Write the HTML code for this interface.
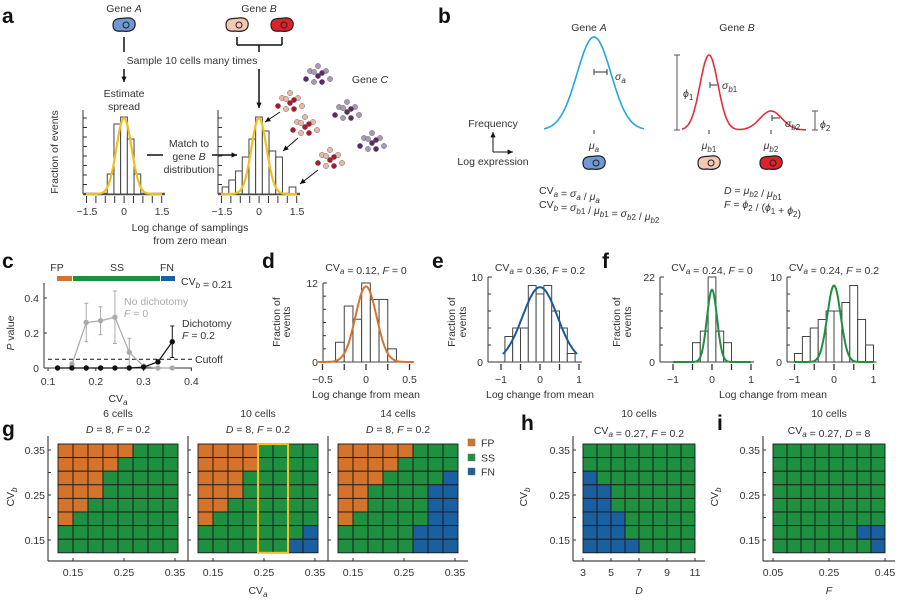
<!DOCTYPE html>
<html><head><meta charset="utf-8"><style>
html,body{margin:0;padding:0;background:#fff}
svg{display:block;font-family:"Liberation Sans",sans-serif;font-size:10.5px;fill:#333}
.pl{font-size:21px;font-weight:bold;fill:#111}
</style></head><body>
<svg id="fig" width="900" height="601" viewBox="0 0 900 601"></svg>
<script>
// ---------- data ----------
const histALeft=[2,7,7.7,5.5,2];
const histARight=[0.7,1.4,2.3,3.7,5.5,7.7,6.3,4.3,3.7,0,0.7];
const cCvaGray=[0.15,0.18,0.21,0.24,0.27,0.30,0.33,0.36];
const cPGray=[0.02,0.26,0.27,0.29,0.09,0.01,0,0];
const cErrGray=[0.015,0.11,0.08,0.15,0.08,0.01,0,0];
const cCvaBlack=[0.12,0.15,0.18,0.21,0.24,0.27,0.30,0.33,0.36];
const cPBlack=[0,0,0,0,0,0,0.005,0.035,0.15];
const cErrBlack=[0,0,0,0,0,0,0,0.01,0.09];
const dCenters=[-0.3,-0.2,-0.1,0,0.1,0.2,0.3];
const dCounts=[3,8.5,6.5,12,9.5,9.5,2];
const eCenters=[-0.8,-0.6,-0.4,-0.2,0,0.2,0.4,0.6,0.8];
const eCounts=[3,4,4,9,8,9,6,4,1];
const f1Centers=[-0.4,-0.2,0,0.2,0.4];
const f1Counts=[5,8,22,8,5];
const f2Centers=[-0.9,-0.7,-0.5,-0.3,-0.1,0.1,0.3,0.5,0.7,0.9];
const f2Counts=[1,3,4,5,6,6,7,9,5,2];
const heatG6=['FFFFFSSS','FFFFSSSS','FFFSSSSS','FFFSSSSS','FFSSSSSS','FSSSSSSS','SSSSSSSS','SSSSSSSS'];
const heatG10=['FFFFSSSS','FFFFSSSS','FFFSSSSS','FFFSSSSS','FFSSSSSS','FSSSSSSS','SSSSSSSN','SSSSSSNN'];
const heatG14=['FFFFFSSS','FFFFSSSS','FFFSSSSN','FFSSSSNN','FFSSSSNN','FSSSSSNN','SSSSSNNN','SSSSSNNN'];
const heatH=['SSSSSSSS','SSSSSSSS','NSSSSSSS','NNSSSSSS','NNSSSSSS','NNNSSSSS','NNNSSSSS','NNNNSSSS'];
const heatI=['SSSSSSSS','SSSSSSSS','SSSSSSSS','SSSSSSSS','SSSSSSSS','SSSSSSSS','SSSSSSNN','SSSSSSSN'];
const gTickVals=[0.15,0.25,0.35];
const hTickVals=[3,5,7,9,11];
const iTickVals=[0.05,0.25,0.45];

// ---------- helpers ----------
const NS='http://www.w3.org/2000/svg';
const svg=document.getElementById('fig');
function el(tag,a,p){const e=document.createElementNS(NS,tag);for(const k in a)e.setAttribute(k,a[k]);(p||svg).appendChild(e);return e;}
function t(x,y,html,anchor,extra){const e=el('text',Object.assign({x:x,y:y,'text-anchor':anchor||'middle'},extra||{}));e.innerHTML=html;return e;}
function ln(x1,y1,x2,y2,c,w,extra){return el('line',Object.assign({x1:x1,y1:y1,x2:x2,y2:y2,stroke:c||'#333','stroke-width':w||1},extra||{}));}
const sub=s=>'<tspan font-size="8" dy="3">'+s+'</tspan><tspan dy="-3"></tspan>';
const it=s=>'<tspan font-style="italic">'+s+'</tspan>';
function arrow(x1,y1,x2,y2,w){ln(x1,y1,x2,y2,'#111',w||1.5);const a=Math.atan2(y2-y1,x2-x1),L=6;
 el('polygon',{points:`${x2},${y2} ${x2-L*Math.cos(a-0.45)},${y2-L*Math.sin(a-0.45)} ${x2-L*Math.cos(a+0.45)},${y2-L*Math.sin(a+0.45)}`,fill:'#111'});}
function cell(cx,cy,fill){const g=el('g',{});
 el('path',{d:`M${cx-11},${cy} C${cx-11},${cy-8} ${cx-3},${cy-6} ${cx+2},${cy-7} C${cx+9},${cy-8} ${cx+12},${cy-4} ${cx+11},${cy+1} C${cx+10},${cy+6} ${cx+4},${cy+7} ${cx-2},${cy+6} C${cx-8},${cy+7} ${cx-11},${cy+5} ${cx-11},${cy} Z`,fill:fill,stroke:'#222','stroke-width':1.2},g);
 el('circle',{cx:cx+2,cy:cy,r:3,fill:'none',stroke:'#222','stroke-width':1},g);return g;}
function gaussPath(xs,ys,peak,sig,mu,lo,hi){let d='';for(let i=0;i<=80;i++){const v=lo+(hi-lo)*i/80;const y=peak*Math.exp(-(v-mu)*(v-mu)/(2*sig*sig));d+=(i?'L':'M')+xs(v).toFixed(1)+','+ys(y).toFixed(1);}return d;}

// panel letters
[['a',2,23],['b',438,23],['c',2,268],['d',262,268],['e',432,268],['f',602,268],['g',2,436],['h',521,430],['i',717,430]].forEach(p=>{const e=t(p[1],p[2],p[0],'start',{class:'pl'});

});

// ---------- panel a ----------
t(124,12,'Gene '+it('A'));t(259,12,'Gene '+it('B'));
cell(124,25,'#6f98d4');cell(237,25,'#f5c8b4');cell(282,25,'#e0202a');
ln(124,37,124,52,'#111',1.5);
ln(237,37,237,45,'#111',1.5);ln(282,37,282,45,'#111',1.5);ln(237,45,282,45,'#111',1.5);ln(259,45,259,52,'#111',1.5);
t(192,64,'Sample 10 cells many times');
arrow(124,69,124,82);arrow(259,69,259,108);
t(124,97,'Estimate');t(124,110,'spread');
t(370,83,'Gene '+it('C'));
t(189,147,'Match to');t(189,160,'gene '+it('B'));t(189,173,'distribution');
ln(147,155,163,155,'#111',1.5);arrow(212,155,237,155);
function aHist(x0,vals,name){const xs=v=>x0+v*25.3,ys=v=>194-v*10;
 ln(x0-41,110,x0-41,194,'#333',1);ln(x0-41,194,x0+41,194,'#555',2.5);
 for(let i=0;i<9;i++){const tx=x0-37.5+i*9.4;ln(tx,196,tx,203,'#333',1);}
 for(let k=1;k<9;k++)ln(x0-41,194-k*9.5,x0-37,194-k*9.5);
 const bw=6.7,n=vals.length,start=-(n*bw)/2;
 vals.forEach((v,i)=>{if(v<=0)return;const r=el('rect',{x:x0+start+i*bw,y:ys(v),width:bw,height:194-ys(v),fill:'#fff',stroke:'#444','stroke-width':1});
 
 });
 el('path',{d:gaussPath(xs,ys,7.6,0.3,0,-1.5,1.5),fill:'none',stroke:'#f0c020','stroke-width':2.2});
 t(x0-37,215,'−1.5');t(x0,215,'0');t(x0+38,215,'1.5');}
aHist(124,histALeft,'hist-a-left');aHist(259,histARight,'hist-a-right');
t(58,152,'Fraction of events','middle',{transform:'rotate(-90 58 152)'});
t(190,231,'Log change of samplings');t(190,244,'from zero mean');
function cluster(cx,cy,c1,c2){const pts=[[0,0],[-8,-5],[8,-5],[-12,3],[12,3],[-4,6],[4,6],[0,-10],[-4,-4],[4,-3]];
 pts.forEach((p,i)=>el('circle',{cx:cx+p[0],cy:cy+p[1],r:2.6,fill:(i%3==0)?c2:c1,stroke:'#666','stroke-width':0.5}));}
cluster(318,76,'#a899b8','#5a2a6a');cluster(290,103,'#e8b8a8','#b01828');cluster(347,112,'#a899b8','#5a2a6a');
cluster(305,127,'#e8b8a8','#b01828');cluster(372,143,'#a899b8','#5a2a6a');cluster(330,160,'#e8b8a8','#b01828');
arrow(280,112,265,122,1);arrow(298,138,283,151,1);arrow(318,170,300,184,1);

// ---------- panel b ----------
t(589,31,'Gene '+it('A'));t(737,31,'Gene '+it('B'));
const bxA=v=>594+v,byA=v=>130-v;
el('path',{d:gaussPath(bxA,byA,93,17,0,-50,50),fill:'none',stroke:'#22a8d8','stroke-width':1.6});
let rd='';for(let i=0;i<=120;i++){const x=682+i*(124/120);const y=75*Math.exp(-((x-709)**2)/(2*9*9))+19*Math.exp(-((x-771)**2)/(2*11*11));rd+=(i?'L':'M')+x.toFixed(1)+','+(130-y).toFixed(1);}
el('path',{d:rd,fill:'none',stroke:'#e0303a','stroke-width':1.6});
ln(594,72,607,72);ln(594,69,594,75);ln(607,69,607,75);t(615,80,it('σ')+sub(it('a')),'start');
ln(710,85,717,85);ln(710,82,710,88);t(722,89,it('σ')+sub(it('b')+'1'),'start');
ln(772,118,780,118);ln(772,115,772,121);t(785,127,it('σ')+sub(it('b')+'2'),'start');
ln(677,55,677,130,'#555');ln(674,55,680,55,'#555');ln(674,130,680,130,'#555');t(683,97,it('ϕ')+sub('1'),'start');
ln(815,111,815,130,'#555');ln(812,111,818,111,'#555');ln(812,130,818,130,'#555');t(820,128,it('ϕ')+sub('2'),'start');
[594,709,771].forEach(x=>ln(x,130,x,134));
t(594,149,it('μ')+sub(it('a')));t(709,149,it('μ')+sub(it('b')+'1'));t(771,149,it('μ')+sub(it('b')+'2'));
cell(594,163,'#6f98d4');cell(709,163,'#f5c8b4');cell(771,163,'#e0202a');
t(493,127,'Frequency');arrow(493,152,493,132,1);arrow(493,152,513,152,1);t(493,165,'Log expression');
t(539,194,'CV'+sub(it('a'))+' = '+it('σ')+sub(it('a'))+' / '+it('μ')+sub(it('a')),'start');
t(539,208,'CV'+sub(it('b'))+' = '+it('σ')+sub(it('b')+'1')+' / '+it('μ')+sub(it('b')+'1')+' = '+it('σ')+sub(it('b')+'2')+' / '+it('μ')+sub(it('b')+'2'),'start');
t(724,194,it('D')+' = '+it('μ')+sub(it('b')+'2')+' / '+it('μ')+sub(it('b')+'1'),'start');
t(724,208,it('F')+' = '+it('ϕ')+sub('2')+' / ('+it('ϕ')+sub('1')+' + '+it('ϕ')+sub('2')+')','start');

// ---------- panel c ----------
const cx=v=>48+(v-0.1)*478, cy=v=>368-v*175;
t(57,271,'FP');t(117,271,'SS');t(167,271,'FN');
el('rect',{x:57,y:276,width:15,height:5,fill:'#d4742c'});el('rect',{x:73,y:276,width:87,height:5,fill:'#1e9040'});el('rect',{x:161,y:276,width:14,height:5,fill:'#1a5fa0'});
t(181,285,'CV'+sub(it('b'))+' = 0.21','start');
ln(44,283,44,368);ln(44,368,192,368);
[0,0.2,0.4].forEach(v=>{ln(44,cy(v),47,cy(v));t(39,cy(v)+4,String(v),'end');});
[0.1,0.2,0.3,0.4].forEach(v=>{ln(cx(v),368,cx(v),371);t(cx(v),385,String(v));});
t(118,402,'CV'+sub(it('a')));
t(14,333,it('P')+' value','middle',{transform:'rotate(-90 14 333)'});
ln(48,cy(0.05),192,cy(0.05),'#111',1,{'stroke-dasharray':'4,3'});
t(195,363,'Cutoff','start');
function series(xa,ya,ea,col,name){let d='';xa.forEach((v,i)=>{d+=(i?'L':'M')+cx(v)+','+cy(ya[i]);});
 el('path',{d:d,fill:'none',stroke:col,'stroke-width':1.2});
 xa.forEach((v,i)=>{if(ea[i]>0.005){ln(cx(v),cy(ya[i]-ea[i]),cx(v),cy(ya[i]+ea[i]),col,1);ln(cx(v)-2,cy(ya[i]+ea[i]),cx(v)+2,cy(ya[i]+ea[i]),col,1);ln(cx(v)-2,cy(ya[i]-ea[i]),cx(v)+2,cy(ya[i]-ea[i]),col,1);}
  const c=el('circle',{cx:cx(v),cy:cy(ya[i]),r:2.7,fill:col});
  
  });}
series(cCvaGray,cPGray,cErrGray,'#aaa','no-dichotomy');
series(cCvaBlack,cPBlack,cErrBlack,'#111','dichotomy');
t(124,305,'No dichotomy','start',{fill:'#aaa'});t(124,317,it('F')+' = 0','start',{fill:'#aaa'});
t(182,327,'Dichotomy','start');t(182,339,it('F')+' = 0.2','start');

// ---------- panels d,e,f ----------
function histPanel(o,centers,counts,name){const xs=o.xs,ys=o.ys;
 ln(o.ax,ys(o.top),o.ax,ys(0));ln(o.ax,ys(o.top),o.ax+4,ys(o.top));
 for(let k=1;k<o.nminor;k++){const yy=ys(o.top*k/o.nminor);ln(o.ax,yy,o.ax+3,yy);}
 ln(o.ax,ys(0),xs(o.xt[o.xt.length-1])+3,ys(0));
 t(o.ax-5,ys(o.top)+4,String(o.top),'end');t(o.ax-5,ys(0)+4,'0','end');
 o.xminor.forEach(v=>ln(xs(v),ys(0)+2,xs(v),ys(0)+8,'#333',1.3));
 o.xt.forEach((v,i)=>t(xs(v),ys(0)+21,o.xl[i]));
 centers.forEach((c,i)=>{const r=el('rect',{x:xs(c-o.bw/2),y:ys(counts[i]),width:xs(o.bw)-xs(0),height:ys(0)-ys(counts[i]),fill:'#fff',stroke:'#444','stroke-width':1});
  
  });
 const p=el('path',{d:gaussPath(xs,ys,o.peak,o.sig,0,o.lo,o.hi),fill:'none',stroke:o.col,'stroke-width':2});
 
 
 t(o.tx,271,o.title);}
histPanel({xs:v=>366+v*87,ys:v=>362-v*79/12,ax:323,top:12,nminor:6,xt:[-0.5,0,0.5],xl:['−0.5','0','0.5'],xminor:[-0.5,-0.25,0,0.25,0.5],bw:0.1,peak:11.5,sig:0.12,lo:-0.55,hi:0.55,col:'#d4742c',tx:366,title:'CV'+sub(it('a'))+' = 0.12, '+it('F')+' = 0'},dCenters,dCounts,'hist-d');
histPanel({xs:v=>540+v*39,ys:v=>362-v*8.5,ax:488,top:10,nminor:5,xt:[-1,0,1],xl:['−1','0','1'],xminor:[-1,-0.5,0,0.5,1],bw:0.2,peak:8.8,sig:0.45,lo:-0.95,hi:0.95,col:'#1a5a98',tx:540,title:'CV'+sub(it('a'))+' = 0.36, '+it('F')+' = 0.2'},eCenters,eCounts,'hist-e');
histPanel({xs:v=>712+v*39,ys:v=>362-v*85/22,ax:660,top:22,nminor:5,xt:[-1,0,1],xl:['−1','0','1'],xminor:[-1,-0.5,0,0.5,1],bw:0.2,peak:18.7,sig:0.13,lo:-1,hi:1,col:'#1e9040',tx:712,title:'CV'+sub(it('a'))+' = 0.24, '+it('F')+' = 0'},f1Centers,f1Counts,'hist-f1');
histPanel({xs:v=>834+v*39.5,ys:v=>362-v*8.5,ax:787,top:10,nminor:5,xt:[-1,0,1],xl:['−1','0','1'],xminor:[-1,-0.5,0,0.5,1],bw:0.2,peak:9,sig:0.17,lo:-1,hi:1,col:'#1e9040',tx:834,title:'CV'+sub(it('a'))+' = 0.24, '+it('F')+' = 0.2'},f2Centers,f2Counts,'hist-f2');
[[280,290],[455,466],[620,631]].forEach(p=>{t(p[0],322,'Fraction of','middle',{transform:`rotate(-90 ${p[0]} 322)`});t(p[1],322,'events','middle',{transform:`rotate(-90 ${p[1]} 322)`});});
t(366,398,'Log change from mean');t(540,398,'Log change from mean');t(773,398,'Log change from mean');

// ---------- heatmaps ----------
const colors={F:'#d4742c',S:'#1e9040',N:'#1a5fa0'};
function heat(x0,cw,rows,name,ticks,tx,tl,ylabels){const y0=444,ch=13.6;
 rows.forEach((r,ri)=>{for(let ci=0;ci<8;ci++){const c=el('rect',{x:x0+ci*cw,y:y0+ri*ch,width:cw,height:ch,fill:colors[r[ci]],stroke:'#1a1a1a','stroke-width':0.9});
  
  }});
 const ax=x0-10,ay=561;ln(ax,436,ax,ay,'#444',1.2);ln(ax,ay,x0+8*cw+10,ay,'#444',1.2);
 [450,472.5,495,517.5,540].forEach(y=>ln(ax,y,ax+3,y));
 ticks.forEach((v,i)=>{ln(tx(v),ay,tx(v),ay-3);t(tx(v),576,tl[i]);});
 if(ylabels){t(ax-3,454,'0.35','end');t(ax-3,499,'0.25','end');t(ax-3,544,'0.15','end');}}
const gl=['0.15','0.25','0.35'];
heat(58,15,heatG6,'heatmap-6-cells',gTickVals,v=>73+(v-0.15)*510,gl,true);
heat(198,15,heatG10,'heatmap-10-cells',gTickVals,v=>213+(v-0.15)*510,gl,false);
heat(338,15,heatG14,'heatmap-14-cells',gTickVals,v=>353+(v-0.15)*510,gl,false);
el('rect',{x:258,y:444,width:30,height:108.8,fill:'none',stroke:'#f0c020','stroke-width':2});
heat(583,14,heatH,'heatmap-h',hTickVals,v=>583+(v-3)*14,['3','5','7','9','11'],true);
heat(773,14,heatI,'heatmap-i',iTickVals,v=>773+(v-0.05)*280,['0.05','0.25','0.45'],true);
t(118,417,'6 cells');t(118,433,it('D')+' = 8, '+it('F')+' = 0.2');
t(258,417,'10 cells');t(258,433,it('D')+' = 8, '+it('F')+' = 0.2');
t(398,417,'14 cells');t(398,433,it('D')+' = 8, '+it('F')+' = 0.2');
t(639,417,'10 cells');t(639,434,'CV'+sub(it('a'))+' = 0.27, '+it('F')+' = 0.2');
t(829,417,'10 cells');t(829,434,'CV'+sub(it('a'))+' = 0.27, '+it('D')+' = 8');
t(258,594,'CV'+sub(it('a')));t(639,594,it('D'));t(829,594,it('F'));
t(14,497,'CV'+sub(it('b')),'middle',{transform:'rotate(-90 14 497)'});
t(527,497,'CV'+sub(it('b')),'middle',{transform:'rotate(-90 527 497)'});
t(718,497,'CV'+sub(it('b')),'middle',{transform:'rotate(-90 718 497)'});
[['FP','F',443],['SS','S',458],['FN','N',472]].forEach(l=>{const r=el('rect',{x:468,y:l[2]-4,width:7,height:7,fill:colors[l[1]],stroke:'#777','stroke-width':0.5});


t(481,l[2]+3.5,l[0],'start');});
</script>
</body></html>
